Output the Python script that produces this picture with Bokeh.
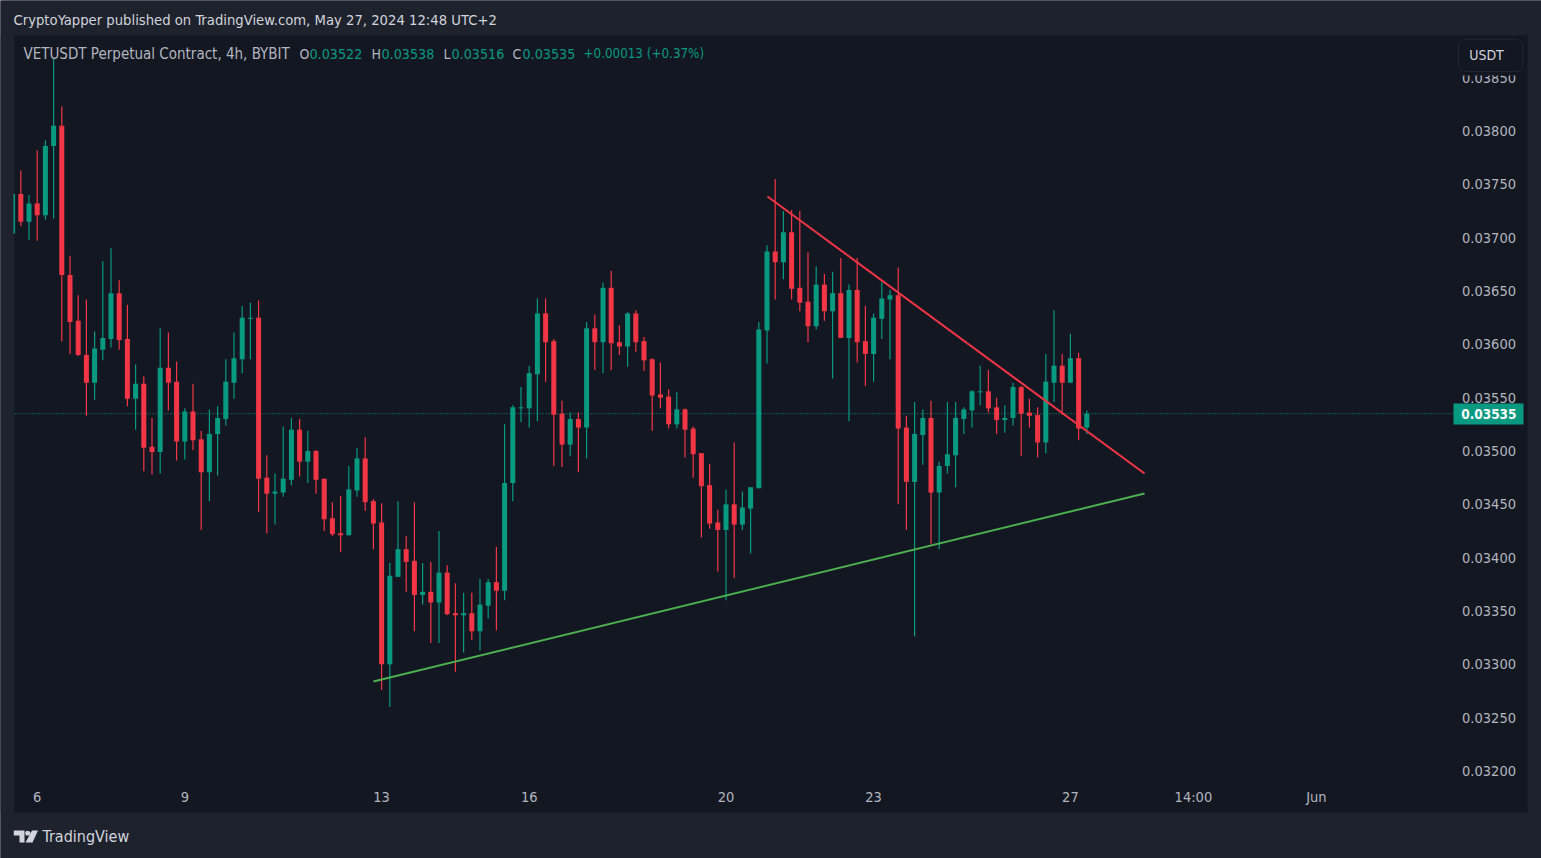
from bokeh.embed import file_html
from bokeh.models import (BoxAnnotation, ColumnDataSource, FixedTicker, Label, LinearAxis,
                          NumeralTickFormatter, PolyAnnotation, Range1d)
from bokeh.plotting import figure
from bokeh.resources import INLINE

opens = [0.03704,0.03741,0.03715,0.03732,0.03721,0.03786,0.03805,0.03665,0.03622,0.03590,
         0.03564,0.03595,0.03605,0.03648,0.03605,0.03549,0.03563,0.03504,0.03499,0.03578,
         0.03565,0.03509,0.03537,0.03511,0.03480,0.03516,0.03530,0.03564,0.03586,0.03624,
         0.03625,0.03475,0.03460,0.03461,0.03473,0.03520,0.03490,0.03500,0.03474,0.03437,
         0.03423,0.03421,0.03463,0.03493,0.03453,0.03433,0.03300,0.03382,0.03408,0.03397,
         0.03365,0.03368,0.03358,0.03386,0.03348,0.03346,0.03348,0.03331,0.03355,0.03377,
         0.03369,0.03470,0.03540,0.03540,0.03572,0.03629,0.03603,0.03535,0.03506,0.03530,
         0.03522,0.03615,0.03602,0.03653,0.03602,0.03598,0.03629,0.03603,0.03586,0.03553,
         0.03551,0.03525,0.03539,0.03521,0.03498,0.03468,0.03433,0.03426,0.03450,0.03431,
         0.03446,0.03465,0.03613,0.03687,0.03677,0.03705,0.03653,0.03640,0.03617,0.03656,
         0.03631,0.03648,0.03606,0.03651,0.03603,0.03591,0.03624,0.03642,0.03646,0.03522,
         0.03471,0.03515,0.03531,0.03461,0.03486,0.03496,0.03530,0.03538,0.03555,0.03556,
         0.03541,0.03529,0.03531,0.03560,0.03536,0.03534,0.03508,0.03564,0.03580,0.03564,
         0.03587,0.03522]
highs = [0.03741,0.03763,0.03740,0.03782,0.03791,0.03868,0.03823,0.03683,0.03646,0.03642,
         0.03612,0.03678,0.03690,0.03660,0.03637,0.03581,0.03570,0.03531,0.03615,0.03611,
         0.03584,0.03540,0.03563,0.03519,0.03539,0.03542,0.03586,0.03611,0.03636,0.03639,
         0.03641,0.03496,0.03479,0.03523,0.03531,0.03530,0.03519,0.03501,0.03474,0.03452,
         0.03458,0.03486,0.03503,0.03513,0.03455,0.03451,0.03395,0.03453,0.03420,0.03452,
         0.03395,0.03396,0.03425,0.03393,0.03376,0.03367,0.03367,0.03380,0.03380,0.03410,
         0.03525,0.03543,0.03560,0.03580,0.03643,0.03643,0.03605,0.03547,0.03536,0.03536,
         0.03621,0.03628,0.03658,0.03669,0.03618,0.03630,0.03632,0.03607,0.03587,0.03583,
         0.03558,0.03555,0.03540,0.03523,0.03498,0.03488,0.03445,0.03464,0.03508,0.03462,
         0.03466,0.03621,0.03693,0.03755,0.03725,0.03726,0.03725,0.03686,0.03673,0.03666,
         0.03668,0.03681,0.03656,0.03681,0.03636,0.03629,0.03659,0.03651,0.03672,0.03533,
         0.03546,0.03539,0.03547,0.03490,0.03546,0.03546,0.03541,0.03557,0.03580,0.03576,
         0.03550,0.03543,0.03564,0.03561,0.03549,0.03541,0.03591,0.03632,0.03591,0.03610,
         0.03592,0.03538]
lows = [0.03704,0.03711,0.03698,0.03697,0.03717,0.03718,0.03603,0.03591,0.03589,0.03533,
        0.03548,0.03585,0.03597,0.03595,0.03542,0.03520,0.03481,0.03478,0.03479,0.03538,
        0.03491,0.03492,0.03501,0.03426,0.03453,0.03477,0.03524,0.03549,0.03573,0.03586,
        0.03443,0.03423,0.03431,0.03457,0.03468,0.03476,0.03470,0.03460,0.03425,0.03420,
        0.03405,0.03421,0.03457,0.03444,0.03408,0.03276,0.03260,0.03382,0.03368,0.03331,
        0.03356,0.03320,0.03320,0.03346,0.03293,0.03311,0.03323,0.03313,0.03343,0.03332,
        0.03360,0.03453,0.03527,0.03522,0.03528,0.03565,0.03486,0.03485,0.03495,0.03480,
        0.03493,0.03576,0.03573,0.03576,0.03590,0.03579,0.03593,0.03575,0.03519,0.03540,
        0.03521,0.03521,0.03494,0.03475,0.03419,0.03427,0.03387,0.03360,0.03381,0.03426,
        0.03404,0.03465,0.03582,0.03642,0.03661,0.03642,0.03631,0.03602,0.03614,0.03622,
        0.03568,0.03606,0.03528,0.03583,0.03561,0.03565,0.03605,0.03586,0.03450,0.03426,
        0.03326,0.03487,0.03413,0.03408,0.03479,0.03466,0.03516,0.03522,0.03543,0.03536,
        0.03516,0.03517,0.03524,0.03495,0.03522,0.03494,0.03498,0.03546,0.03534,0.03564,
        0.03510,0.03516]
closes = [0.03741,0.03715,0.03732,0.03721,0.03786,0.03805,0.03665,0.03621,0.03590,0.03564,
          0.03596,0.03606,0.03648,0.03604,0.03549,0.03563,0.03503,0.03499,0.03578,0.03564,
          0.03509,0.03537,0.03510,0.03480,0.03516,0.03531,0.03565,0.03587,0.03625,0.03625,
          0.03474,0.03460,0.03462,0.03474,0.03520,0.03490,0.03500,0.03473,0.03436,0.03422,
          0.03421,0.03464,0.03493,0.03452,0.03432,0.03300,0.03383,0.03408,0.03396,0.03365,
          0.03368,0.03358,0.03386,0.03347,0.03346,0.03348,0.03331,0.03356,0.03377,0.03369,
          0.03470,0.03541,0.03541,0.03573,0.03629,0.03602,0.03534,0.03506,0.03530,0.03522,
          0.03615,0.03602,0.03653,0.03601,0.03598,0.03629,0.03602,0.03585,0.03552,0.03550,
          0.03525,0.03539,0.03520,0.03497,0.03467,0.03432,0.03426,0.03450,0.03431,0.03447,
          0.03466,0.03614,0.03687,0.03677,0.03705,0.03652,0.03639,0.03617,0.03656,0.03631,
          0.03648,0.03606,0.03651,0.03602,0.03591,0.03625,0.03643,0.03646,0.03521,0.03471,
          0.03516,0.03531,0.03461,0.03486,0.03497,0.03531,0.03539,0.03556,0.03556,0.03540,
          0.03529,0.03531,0.03560,0.03535,0.03533,0.03508,0.03565,0.03580,0.03564,0.03587,
          0.03521,0.03535]

last_price = 0.03535
time_ticks = [3, 21, 45, 63, 87, 105, 129, 144, 159]
time_labels = ["6", "9", "13", "16", "20", "23", "27", "14:00", "Jun"]
price_ticks = [0.0320, 0.0325, 0.0330, 0.0335, 0.0340, 0.0345, 0.0350, 0.0355, 0.0360, 0.0365,
               0.0370, 0.0375, 0.0380, 0.0385]
red_trend_x = [92.06, 138.04]
red_trend_y = [0.037386, 0.034789]
green_trend_x = [44.0, 138.04]
green_trend_y = [0.032839, 0.034602]

OUTER = "#1e222d"
PANE = "#131722"
EDGE = "#2a2e39"
UP = "#089981"
DOWN = "#f23645"
TEXT = "#b2b5be"
FONT = "DejaVu Sans Condensed"

# Layout mapping: window pixel -> bar index / price.
def bx(px):
    return (px - 12.1) / 8.2

def py(y):
    return 0.038 - (y - 130.5) / 106667.0

p = figure(width=1541, height=858, output_backend="svg", toolbar_location=None,
           x_axis_type=None, y_axis_type=None, tools="",
           x_range=Range1d(bx(0), bx(1541)), y_range=Range1d(py(858), py(0)),
           min_border_left=0, min_border_right=0, min_border_top=0, min_border_bottom=0,
           background_fill_color=OUTER, border_fill_color=OUTER, outline_line_color=None)
p.grid.visible = False

# Page backdrop, running past the canvas edge
p.add_layout(BoxAnnotation(left=bx(-4), right=bx(1545), top=py(-4), bottom=py(862),
                           fill_color=OUTER, fill_alpha=1, line_color=None, level="underlay"))

# Chart pane
p.add_layout(BoxAnnotation(left=bx(13), right=bx(1528), top=py(34), bottom=py(813),
                           fill_color=PANE, fill_alpha=1, line_color=EDGE, line_width=2,
                           level="underlay"))

idx = list(range(len(opens)))
colors = [UP if c >= o else DOWN for o, c in zip(opens, closes)]
src = ColumnDataSource(dict(
    x=idx, o=opens, h=highs, l=lows, c=closes,
    top=[max(o, c) for o, c in zip(opens, closes)],
    bottom=[min(o, c) for o, c in zip(opens, closes)],
    color=colors))

# Last-price dotted line
p.line([bx(14), bx(1453)], [last_price, last_price], line_color=UP, line_width=1,
       line_dash=[1, 2])

p.segment("x", "h", "x", "l", source=src, line_color="color", line_width=1.2)
p.vbar("x", top="top", bottom="bottom", width=0.61, source=src, fill_color="color",
       line_color="color", line_width=0)

p.line(red_trend_x, red_trend_y, line_color=DOWN, line_width=2)
p.line(green_trend_x, green_trend_y, line_color="#4caf50", line_width=2)

# First bar is cut off by the pane's left edge
p.add_layout(BoxAnnotation(left=bx(0), right=bx(13), top=py(34), bottom=py(813),
                           fill_color=OUTER, fill_alpha=1, line_color=None))

# Axes drawn inside the pane
yaxis = LinearAxis(fixed_location=bx(1515.5), ticker=FixedTicker(ticks=price_ticks),
                   formatter=NumeralTickFormatter(format="0.00000"),
                   axis_line_color=None, major_tick_line_color=None, minor_tick_line_color=None,
                   major_tick_in=0, major_tick_out=0, minor_tick_in=0, minor_tick_out=0,
                   major_label_standoff=0,
                   major_label_text_color=TEXT, major_label_text_font=FONT,
                   major_label_text_font_size="14.5px")
p.add_layout(yaxis, "left")

xaxis = LinearAxis(fixed_location=py(788), ticker=FixedTicker(ticks=time_ticks),
                   major_label_overrides={t: s for t, s in zip(time_ticks, time_labels)},
                   axis_line_color=None, major_tick_line_color=None, minor_tick_line_color=None,
                   major_tick_in=0, major_tick_out=0, minor_tick_in=0, minor_tick_out=0,
                   major_label_standoff=0,
                   major_label_text_color=TEXT, major_label_text_font=FONT,
                   major_label_text_font_size="14.5px")
p.add_layout(xaxis, "below")

def text(px, y, s, color=TEXT, size="14px", weight="normal", align="left"):
    p.add_layout(Label(x=bx(px), y=py(y), text=s, text_color=color, text_font=FONT,
                       text_font_size=size, text_font_style=weight, text_align=align,
                       text_baseline="middle"))

text(13, 19, "CryptoYapper published on TradingView.com, May 27, 2024 12:48 UTC+2",
     color="#d1d4dc", size="14.7px")
text(23, 53, "VETUSDT Perpetual Contract, 4h, BYBIT", size="15px")
for lx, letter, vx, val in [(299, "O", 309, "0.03522"), (371, "H", 381, "0.03538"),
                            (443, "L", 451, "0.03516"), (512, "C", 522, "0.03535")]:
    text(lx, 53, letter)
    text(vx, 53, val, color=UP, size="14.2px")
text(583, 53, "+0.00013 (+0.37%)", color=UP, size="13.3px")

# USDT button, with the clearance it cuts out of the top price label
p.add_layout(BoxAnnotation(left=bx(1458), right=bx(1522), top=py(39), bottom=py(75),
                           fill_color=PANE, fill_alpha=1, line_color=None))
p.add_layout(BoxAnnotation(left=bx(1458), right=bx(1522), top=py(39), bottom=py(71),
                           fill_color=PANE, fill_alpha=1, line_color="#434651", line_width=1,
                           border_radius=6))
text(1486, 54, "USDT", color="#d1d4dc", align="center")

# Last price tag
p.add_layout(BoxAnnotation(left=bx(1453), right=bx(1523), top=py(403), bottom=py(424),
                           fill_color=UP, fill_alpha=1, line_color=None))
text(1516, 413, "0.03535", color="#ffffff", weight="bold", size="13.5px", align="right")

# TradingView mark and name
logo_parts = [
    [(13.3, 830), (24, 830), (24, 842), (19, 842), (19, 835), (13.3, 835)],
    [(25.5, 830.5), (28.5, 830.5), (29.8, 832), (29.8, 833.5), (28.5, 835), (25.5, 835),
     (24.8, 833.5), (24.8, 832)],
    [(31.5, 830), (37.5, 830), (32, 842), (25, 842)],
]
for part in logo_parts:
    p.add_layout(PolyAnnotation(xs=[bx(a) for a, _ in part], ys=[py(b) for _, b in part],
                                fill_color="#d1d4dc", fill_alpha=1, line_color=None))
text(42, 836, "TradingView", color="#d1d4dc", size="16px")

open("out.html", "w").write(file_html(p, INLINE))
